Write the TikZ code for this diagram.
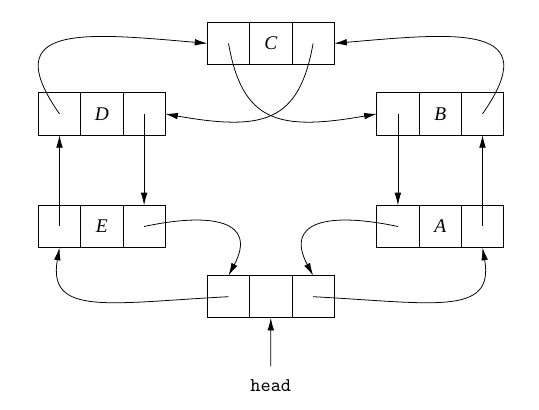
\documentclass[tikz,border=0pt]{standalone}
\usepackage{fontspec}
\newfontfamily\labelfont{Liberation Serif}
\usetikzlibrary{arrows.meta, positioning}
\begin{document}
\begin{tikzpicture}[
  x=0.5154pt, y=0.5154pt,
  cell/.style={draw, minimum width=21.8pt, minimum height=21.8pt, inner sep=0pt, outer sep=0pt,
               font=\labelfont\itshape},
  arr/.style={-{Latex[length=6.5pt, width=3.4pt]}},
]
\useasboundingbox (0,0) rectangle (539,409);
% Top record
\node[cell] (Cl) at (228.5, 365.6) {};
\node[cell, right=0pt of Cl] (Cm) {C};
\node[cell, right=0pt of Cm] (Cr) {};
% Upper row
\node[cell] (Dl) at (59.5, 295.1) {};
\node[cell, right=0pt of Dl] (Dm) {D};
\node[cell, right=0pt of Dm] (Dr) {};
\node[cell] (Bl) at (397.9, 295.1) {};
\node[cell, right=0pt of Bl] (Bm) {B};
\node[cell, right=0pt of Bm] (Br) {};
% Lower row
\node[cell] (El) at (59.5, 182.5) {};
\node[cell, right=0pt of El] (Em) {E};
\node[cell, right=0pt of Em] (Er) {};
\node[cell] (Al) at (397.9, 182.5) {};
\node[cell, right=0pt of Al] (Am) {A};
\node[cell, right=0pt of Am] (Ar) {};
% Sentinel
\node[cell] (Hl) at (228.5, 112.3) {};
\node[cell, right=0pt of Hl] (Hm) {};
\node[cell, right=0pt of Hm] (Hr) {};
\node (head) at (270.8, 23) {\texttt{head}};

% Pointers
\draw[arr] (Dl.center) .. controls +(125:110) and +(175:125) .. (Cl.west);
\draw[arr] (Br.center) .. controls +(55:110) and +(5:125) .. (Cr.east);
\draw[arr] (Cl.center) .. controls +(-80:80) and +(190:100) .. (Bl.west);
\draw[arr] (Cr.center) .. controls +(-100:80) and +(-10:100) .. (Dr.east);
\draw[arr] (Dr.center) -- (Er.north);
\draw[arr] (El.center) -- (Dl.south);
\draw[arr] (Bl.center) -- (Al.north);
\draw[arr] (Ar.center) -- (Br.south);
\draw[arr] (Er.center) .. controls +(12:70) and +(62:62) .. (Hl.north);
\draw[arr] (Al.center) .. controls +(168:70) and +(118:62) .. (Hr.north);
\draw[arr] (Hl.center) .. controls +(183:120) and +(-100:70) .. (El.south);
\draw[arr] (Hr.center) .. controls +(-3:120) and +(-80:70) .. (Ar.south);
\draw[arr, shorten <=3.5pt] (head) -- (Hm.south);
\end{tikzpicture}
\end{document}
